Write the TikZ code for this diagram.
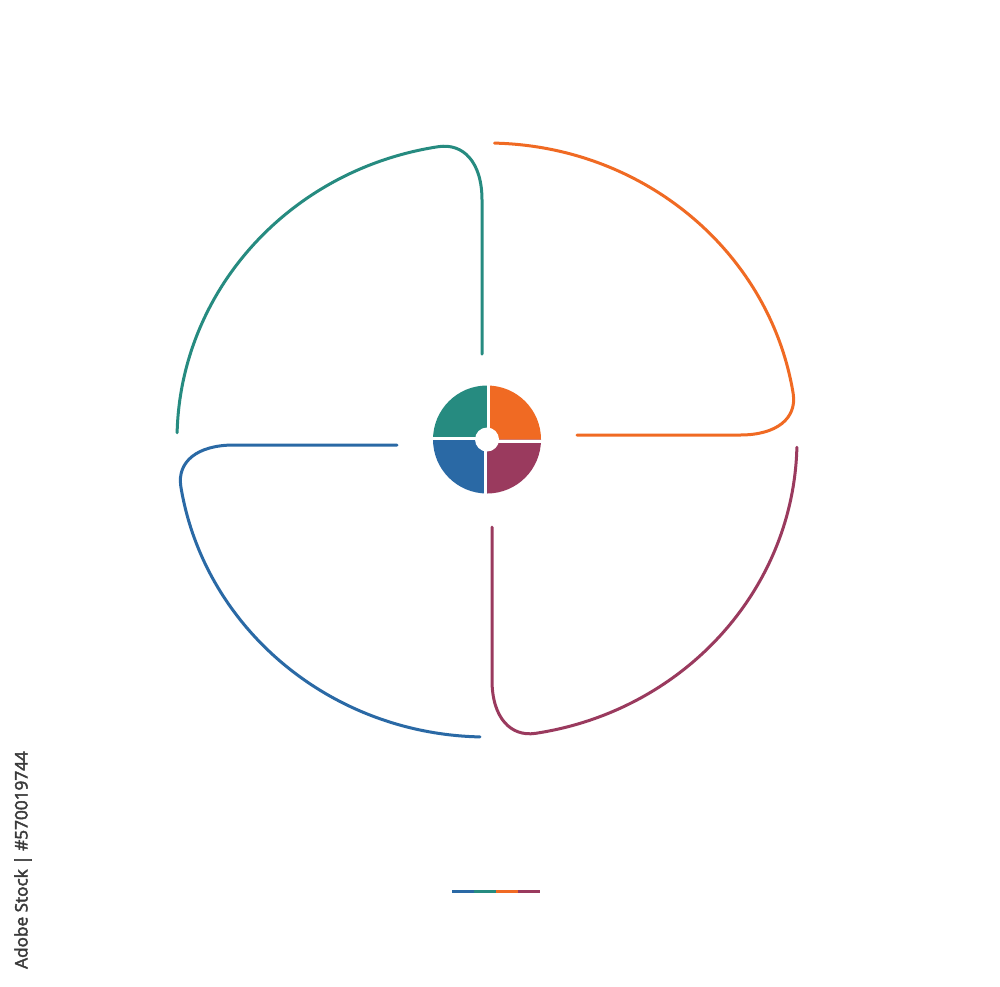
\documentclass[tikz,border=0pt]{standalone}
\usepackage{fontspec}
\setmainfont{Open Sans}
\newfontfamily\labelfont[FakeBold=2.5]{Open Sans}
\definecolor{cteal}{HTML}{268B80}
\definecolor{corange}{HTML}{F06A23}
\definecolor{cplum}{HTML}{9A3A5E}
\definecolor{cblue}{HTML}{2A69A5}
\definecolor{ctext}{HTML}{3A3A3A}
\tikzset{
  arm/.style={line width=3pt, line cap=round},
  gap/.style={white, line width=3pt},
}
\begin{document}
\begin{tikzpicture}[x=1pt,y=-1pt]
\useasboundingbox (0,0) rectangle (1000,986);
\fill[white] (0,0) rectangle (1000,986);
\begin{scope}[shift={(487,440)}]
  % arms
  \draw[arm, cteal] (181.4:310 and 297) arc[start angle=181.4, end angle=261, x radius=310, y radius=297]
    .. controls (-23.8,-297) and (-5,-278) .. (-5,-240) -- (-5,-86);
  \draw[arm, corange] (271.4:310 and 297) arc[start angle=271.4, end angle=351, x radius=310, y radius=297]
    .. controls (310,-21.8) and (290,-5) .. (253,-5) -- (90,-5);
  \draw[arm, cplum] (1.4:310 and 297) arc[start angle=1.4, end angle=81, x radius=310, y radius=297]
    .. controls (23.8,297) and (5,278) .. (5,240) -- (5,87);
  \draw[arm, cblue] (91.3:310 and 297) arc[start angle=91.3, end angle=171, x radius=310, y radius=297]
    .. controls (-310,21.8) and (-290,5) .. (-253,5) -- (-90,5);
  % central pie
  \begin{scope}[shift={(0,-0.5)}]
    \fill[cteal] (0,0) -- (180:54) arc[start angle=180, end angle=270, radius=54] -- cycle;
    \fill[corange] (0,0) -- (270:54) arc[start angle=270, end angle=360, radius=54] -- cycle;
    \fill[cplum] (0,0) -- (0:54) arc[start angle=0, end angle=90, radius=54] -- cycle;
    \fill[cblue] (0,0) -- (90:54) arc[start angle=90, end angle=180, radius=54] -- cycle;
    \draw[gap] (1,0) -- (1,-56);
    \draw[gap] (-2,0) -- (-2,56);
    \draw[gap] (0,-1.5) -- (-56,-1.5);
    \draw[gap] (0,1.5) -- (56,1.5);
    \fill[white] (0,0) circle[radius=12];
  \end{scope}
\end{scope}
% bottom bar
\draw[cblue, line width=3.5pt] (452,891.5) -- (474,891.5);
\draw[cteal, line width=3.5pt] (474,891.5) -- (496,891.5);
\draw[corange, line width=3.5pt] (496,891.5) -- (518,891.5);
\draw[cplum, line width=3.5pt] (518,891.5) -- (540,891.5);
% side label
\node[rotate=90, text=ctext, font=\labelfont\fontsize{17.2}{19}\selectfont, inner sep=0pt] (label) at (23,860) {Adobe Stock | \#570019744};
\end{tikzpicture}
\end{document}
